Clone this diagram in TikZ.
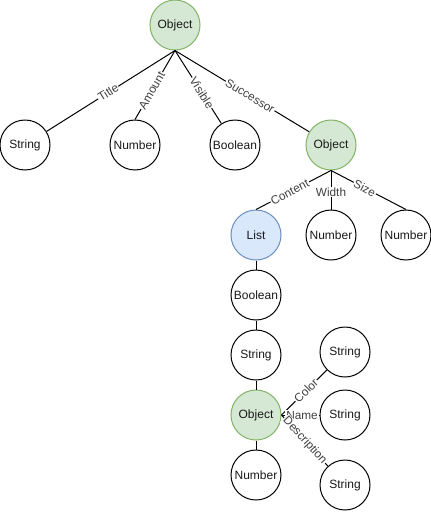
\documentclass[tikz,border=0pt]{standalone}
\usepackage{fontspec}
\setmainfont{Liberation Sans}
\definecolor{objfill}{HTML}{D5E8D4}
\definecolor{objline}{HTML}{82B366}
\definecolor{lstfill}{HTML}{DAE8FC}
\definecolor{lstline}{HTML}{6C8EBF}
\begin{document}
\begin{tikzpicture}[x=1pt,y=-1pt,line width=1pt,
	ent/.style={circle,draw,minimum size=50pt,inner sep=0pt,text=black!90,font=\fontsize{12}{14}\selectfont},
	obj/.style={ent,fill=objfill,draw=objline},
	lst/.style={ent,fill=lstfill,draw=lstline},
	lbl/.style={sloped,fill=white,inner sep=.8pt,text=black!75,font=\fontsize{11.8}{13}\selectfont}]
	\useasboundingbox (0,0) rectangle (431,512);
	% top level
	\node [obj] (root) at (175,25) {Object};
	\node [ent] (title) at (25,145) {String};
	\node [ent] (amount) at (135,145) {Number};
	\node [ent] (visible) at (235,145) {Boolean};
	\node [obj] (succ) at (331,145) {Object};
	\draw (root.south) -- (title) node [lbl,pos=.52] {Title};
	\draw (root.south) -- (amount.north) node [lbl,pos=.58] {Amount};
	\draw (root.south) -- (visible) node [lbl,pos=.58] {Visible};
	\draw (root.south) -- (succ) node [lbl,pos=.56] {Successor};
	% successor
	\node [lst] (content) at (256,235) {List};
	\node [ent] (width) at (331,235) {Number};
	\node [ent] (size) at (406,235) {Number};
	\draw (succ.south) -- (content.north) node [lbl,pos=.55] {Content};
	\draw (succ.south) -- (width.north) node [lbl,sloped=false,pos=.55] {Width};
	\draw (succ.south) -- (size.north) node [lbl,pos=.45] {Size};
	% list items
	\node [ent] (item1) at (256,295) {Boolean};
	\node [ent] (item2) at (256,355) {String};
	\node [obj] (item3) at (256,415) {Object};
	\node [ent] (item4) at (256,475) {Number};
	\draw (content) -- (item1);
	\draw (item1) -- (item2);
	\draw (item2) -- (item3);
	\draw (item3) -- (item4);
	% object in list
	\node [ent] (color) at (345,352) {String};
	\node [ent] (name) at (345,415) {String};
	\node [ent] (descr) at (345,485) {String};
	\draw (item3.east) -- (color) node [lbl,pos=.54] {Color};
	\draw (item3.east) -- (name) node [lbl,pos=.54] {Name};
	\draw (item3.east) -- (descr) node [lbl,pos=.5] {Description};
\end{tikzpicture}
\end{document}
